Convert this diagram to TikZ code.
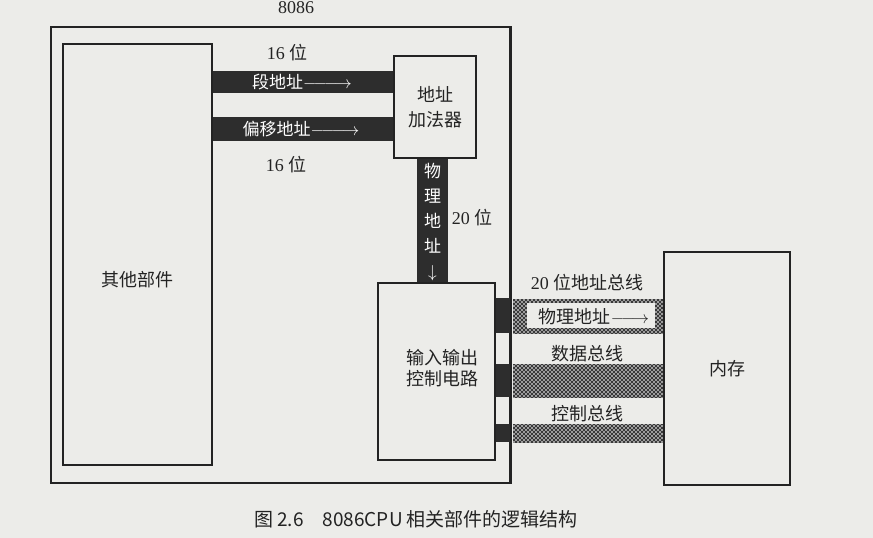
\documentclass[tikz,border=0pt]{standalone}
\usepackage{fontspec}
\setmainfont{Liberation Serif}
\newfontfamily\cjk{Noto Sans CJK SC}
\usetikzlibrary{patterns.meta}
\definecolor{paper}{RGB}{236,236,233}
\definecolor{ink}{RGB}{35,35,35}
\definecolor{busdark}{RGB}{45,45,45}
\newcommand{\busarrow}{$\relbar\joinrel\relbar\joinrel\longrightarrow$}
\newcommand{\shortbusarrow}{$\relbar\joinrel\longrightarrow$}
\tikzdeclarepattern{
  name=xhatch,
  type=uncolored,
  bounding box={(-.5pt,-.5pt) and (4.5pt,4.5pt)},
  tile size={(4pt,4pt)},
  code={\draw[line width=1.25pt] (0,0)--(4pt,4pt) (0,4pt)--(4pt,0);}
}
\begin{document}
\begin{tikzpicture}[x=1pt,y=-1pt,
  box/.style={draw=ink, line width=1.4pt, fill=paper, inner sep=0pt},
  lbl/.style={font=\cjk\fontsize{18}{22}\selectfont, inner sep=0pt, text=ink},
  wlbl/.style={font=\cjk\fontsize{17}{22}\selectfont, inner sep=0pt, text=white},
  num/.style={font=\fontsize{18}{22}\selectfont, inner sep=0pt, text=ink},
  darkbus/.style={fill=busdark},
  hatchbus/.style={pattern={xhatch}, pattern color=ink!90}
]
\useasboundingbox (0,0) rectangle (873,538);
\fill[paper] (0,0) rectangle (873,538);

% boxes
\node[box, line width=1.8pt, minimum width=459pt, minimum height=456pt] (cpu) at (280.5,255) {};
\node[box, minimum width=149pt, minimum height=421pt] (other) at (137.5,254.5) {};
\node[box, minimum width=82pt, minimum height=102pt] (adder) at (435,107) {};
\node[box, minimum width=117pt, minimum height=177pt] (io) at (436.5,371.5) {};
\node[box, minimum width=126pt, minimum height=233pt] (mem) at (727,368.5) {};

% box labels
\node[num] (t8086) at (296,8) {8086};
\node[lbl] (otherlbl) at (other.center |- 0,280) {其他部件};
\node[lbl, align=center, font=\cjk\fontsize{18}{25}\selectfont] (adderlbl) at (adder.center) {地址\\加法器};
\node[lbl, align=center, font=\cjk\fontsize{18}{21}\selectfont] (iolbl) at (442,368) {输入输出\\控制电路};
\node[lbl] (memlbl) at (mem.center) {内存};

% segment / offset buses
\fill[darkbus] (other.east |- 0,71) rectangle (adder.west |- 0,93);
\fill[darkbus] (other.east |- 0,117) rectangle (adder.west |- 0,141);
\node[wlbl] (seg) at (302,82) {段地址\busarrow};
\node[wlbl] (off) at (301,129) {偏移地址\busarrow};
\node[num] (b16a) at (287,53) {16 {\cjk 位}};
\node[num] (b16b) at (286,165) {16 {\cjk 位}};

% physical address bus (vertical)
\fill[darkbus] (417,0 |- adder.south) rectangle (448,0 |- io.north);
\node[wlbl, align=center, font=\cjk\fontsize{17}{25}\selectfont] (phys) at (432.5,222) {物\\理\\地\\址\\$\downarrow$};
\node[num] (b20) at (472,218) {20 {\cjk 位}};

% stubs through the CPU wall
\fill[darkbus] (io.east |- 0,298) rectangle (cpu.east |- 0,333);
\fill[darkbus] (io.east |- 0,364) rectangle (cpu.east |- 0,397);
\fill[darkbus] (io.east |- 0,424) rectangle (cpu.east |- 0,442);
\draw[ink, line width=1.8pt] (cpu.north east) -- (cpu.south east);

% external buses
\fill[white] (513,299) rectangle (mem.west |- 0,333);
\fill[hatchbus] (513,299) rectangle (mem.west |- 0,333);
\fill[paper] (527,303) rectangle (655,328);
\fill[white] (513,364) rectangle (mem.west |- 0,397);
\fill[hatchbus] (513,364) rectangle (mem.west |- 0,397);
\fill[white] (513,424) rectangle (mem.west |- 0,442);
\fill[hatchbus] (513,424) rectangle (mem.west |- 0,442);
\draw[ink, line width=1.4pt] (mem.north west) -- (mem.south west);

\node[lbl] (abus) at (587,283) {{\fontspec{Liberation Serif}20} 位地址总线};
\node[lbl] (paddr) at (594,317) {物理地址\shortbusarrow};
\node[lbl] (dbus) at (587,354) {数据总线};
\node[lbl] (cbus) at (587,414) {控制总线};

% caption
\node[font=\cjk\fontsize{19}{22}\selectfont, inner sep=0pt, text=ink] (cap) at (416,519) {图 2.6\quad 8086CPU 相关部件的逻辑结构};
\end{tikzpicture}
\end{document}
